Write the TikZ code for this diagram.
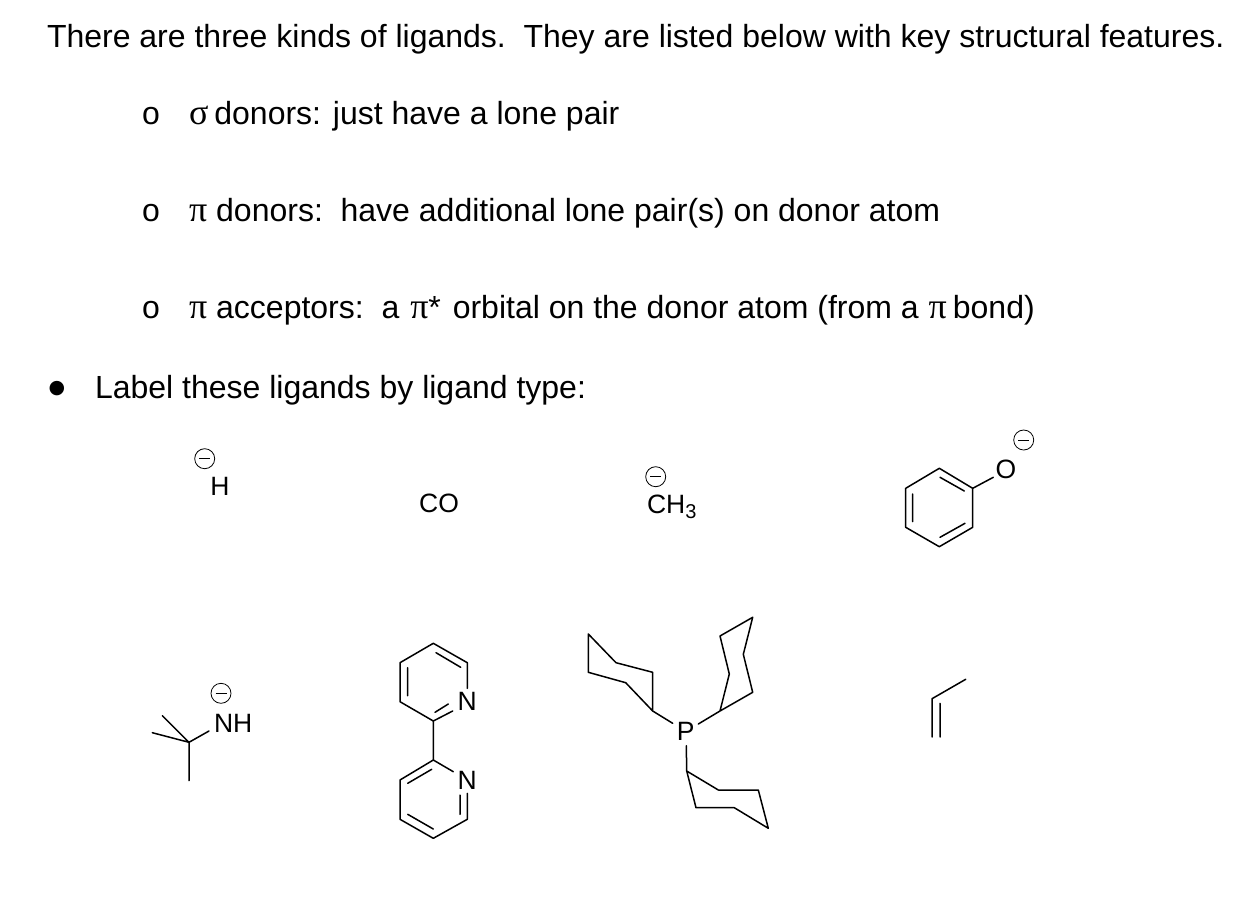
\documentclass[tikz,border=0pt]{standalone}
\usepackage{fontspec}
\setmainfont{Liberation Sans}
\newfontfamily\grk{Liberation Serif}
\newfontfamily\sym{DejaVu Sans}
\newcommand{\bodyfs}{\fontsize{32}{38}\selectfont}
\newcommand{\atomfs}{\fontsize{26.5}{30}\selectfont}
\newcommand{\sig}{{\grk\fontsize{36}{38}\selectfont σ}}
\newcommand{\ppi}{{\grk\fontsize{36}{38}\selectfont π}}
\begin{document}
\begin{tikzpicture}[x=1pt,y=-1pt,
  every node/.style={inner sep=0pt,outer sep=0pt},
  body/.style={anchor=base west,font=\bodyfs,text=black},
  atom/.style={font=\atomfs,text=black},
  bond/.style={line width=1.5pt,line cap=round,line join=round,black},
  charge/.style={circle,draw=black,line width=0.8pt,minimum size=20pt,
    path picture={\draw[line width=0.9pt] ([xshift=-5.5pt]path picture bounding box.center) -- ([xshift=5.5pt]path picture bounding box.center);}}]
\useasboundingbox (0,0) rectangle (1236,918);
% text
\node[body] (t1) at (47,47) {There are three kinds of ligands.\ \ They are listed below with key structural features.};
\node[body] (o1) at (142,124) {o};
\node[body] (l1) at (189,124) {\sig\hspace{6pt}donors: just have a lone pair};
\node[body] (o2) at (142,221) {o};
\node[body] (l2) at (189,221) {\ppi\hspace{9pt}donors:\ \ have additional lone pair(s) on donor atom};
\node[body] (o3) at (142,318) {o};
\node[body] (l3) at (189,318) {\ppi\hspace{9pt}acceptors:\ \ a\hspace{2pt} \ppi*\hspace{3pt} orbital on the donor atom (from a\hspace{1pt} \ppi\hspace{6pt}bond)};
\node[body,font=\fontsize{19}{24}\selectfont] (b1) at (48.5,393.7) {\sym ●};
\node[body] (l4) at (95,398) {Label these ligands by ligand type:};
% hydride
\node[charge] (cH) at (204.7,458.7) {};
\node[atom] (H) at (220,486.7) {H};
% CO
\node[atom] (CO) at (439,503) {CO};
% methyl
\node[charge] (cMe) at (655.7,476.7) {};
\node[atom,anchor=base west] (Me) at (647,513) {CH\raisebox{-5pt}{\fontsize{20}{22}\selectfont 3}};
% phenoxide
\node[charge] (cO) at (1023.7,440) {};
\node[atom] (O) at (1006,469.3) {O};
\coordinate (p1) at (939.3,468.3);
\coordinate (p2) at (972.7,488.3);
\coordinate (p3) at (972.7,527.3);
\coordinate (p4) at (939.3,546.7);
\coordinate (p5) at (905.7,527.3);
\coordinate (p6) at (905.7,488.3);
\coordinate (pa) at (940,477.3);
\coordinate (pb) at (964.3,491);
\coordinate (pc) at (912.7,494);
\coordinate (pd) at (912.7,521.7);
\coordinate (pe) at (940,537.3);
\coordinate (pf) at (965,523.3);
\coordinate (pO) at (993.3,477.3);
\draw[bond] (p1)--(p2)--(p3)--(p4)--(p5)--(p6)--cycle;
\draw[bond] (pa)--(pb) (pc)--(pd) (pe)--(pf) (p2)--(pO);
% tert-butyl amide
\node[charge] (cN) at (221,693.3) {};
\node[atom,anchor=base west] (NH) at (214,732) {NH};
\coordinate (q0) at (189,742.3);
\coordinate (q1) at (162.3,715.7);
\coordinate (q2) at (152.3,732.7);
\coordinate (q3) at (189,780.7);
\coordinate (q4) at (209,731);
\draw[bond] (q0)--(q1) (q0)--(q2) (q0)--(q3) (q0)--(q4);
% bipyridine
\node[atom] (N1) at (467.3,701.7) {N};
\node[atom] (N2) at (467.3,780.7) {N};
\coordinate (u1) at (433.3,643.3);
\coordinate (u2) at (467.3,662.7);
\coordinate (u3) at (467.3,688.3);
\coordinate (u4) at (452.7,711);
\coordinate (u5) at (433.3,721);
\coordinate (u6) at (400,701.7);
\coordinate (u7) at (400,662.7);
\coordinate (ua) at (436,652.7);
\coordinate (ub) at (460.7,667.3);
\coordinate (uc) at (407.7,667.7);
\coordinate (ud) at (407.7,695.7);
\coordinate (ue) at (435,712.3);
\coordinate (uf) at (448.3,704);
\draw[bond] (u3)--(u2)--(u1)--(u7)--(u6)--(u5)--(u4);
\draw[bond] (ua)--(ub) (uc)--(ud) (ue)--(uf);
\coordinate (v1) at (433.3,760);
\coordinate (v2) at (453.3,771.7);
\coordinate (v3) at (467.3,793.3);
\coordinate (v4) at (467.3,819.3);
\coordinate (v5) at (433.3,838.3);
\coordinate (v6) at (400,819.3);
\coordinate (v7) at (400,780);
\coordinate (va) at (431.7,769.3);
\coordinate (vb) at (407.7,783.3);
\coordinate (vc) at (407.7,814.3);
\coordinate (vd) at (433.3,829);
\coordinate (ve) at (460,795);
\coordinate (vf) at (460,814.3);
\draw[bond] (v2)--(v1)--(v7)--(v6)--(v5)--(v4)--(v3);
\draw[bond] (va)--(vb) (vc)--(vd) (ve)--(vf) (u5)--(v1);
% tricyclohexylphosphine
\node[atom] (P) at (685.7,731.7) {P};
\coordinate (r1) at (588.3,634);
\coordinate (r2) at (616,662.7);
\coordinate (r3) at (652.7,672.3);
\coordinate (r4) at (652.7,711);
\coordinate (r5) at (625.7,682.7);
\coordinate (r6) at (588.3,672.3);
\coordinate (rP) at (672.7,723.3);
\draw[bond] (r1)--(r2)--(r3)--(r4)--(r5)--(r6)--cycle (r4)--(rP);
\coordinate (s1) at (720,711);
\coordinate (s2) at (752.7,692.3);
\coordinate (s3) at (743.3,654.3);
\coordinate (s4) at (752.7,617.3);
\coordinate (s5) at (720,636);
\coordinate (s6) at (729.3,674);
\coordinate (sP) at (698.3,724);
\draw[bond] (s1)--(s2)--(s3)--(s4)--(s5)--(s6)--cycle (s1)--(sP);
\coordinate (w1) at (686.7,771);
\coordinate (w2) at (718.3,790);
\coordinate (w3) at (758.3,790);
\coordinate (w4) at (768.3,828.3);
\coordinate (w5) at (734.3,807.7);
\coordinate (w6) at (696,807.7);
\coordinate (wP) at (686.3,745.7);
\draw[bond] (w1)--(w2)--(w3)--(w4)--(w5)--(w6)--cycle (w1)--(wP);
% propene
\coordinate (e1) at (965.7,679.3);
\coordinate (e2) at (932,698.7);
\coordinate (e3) at (932,737);
\coordinate (e4) at (940,703.3);
\coordinate (e5) at (940,737);
\draw[bond] (e1)--(e2)--(e3) (e4)--(e5);
\end{tikzpicture}
\end{document}
